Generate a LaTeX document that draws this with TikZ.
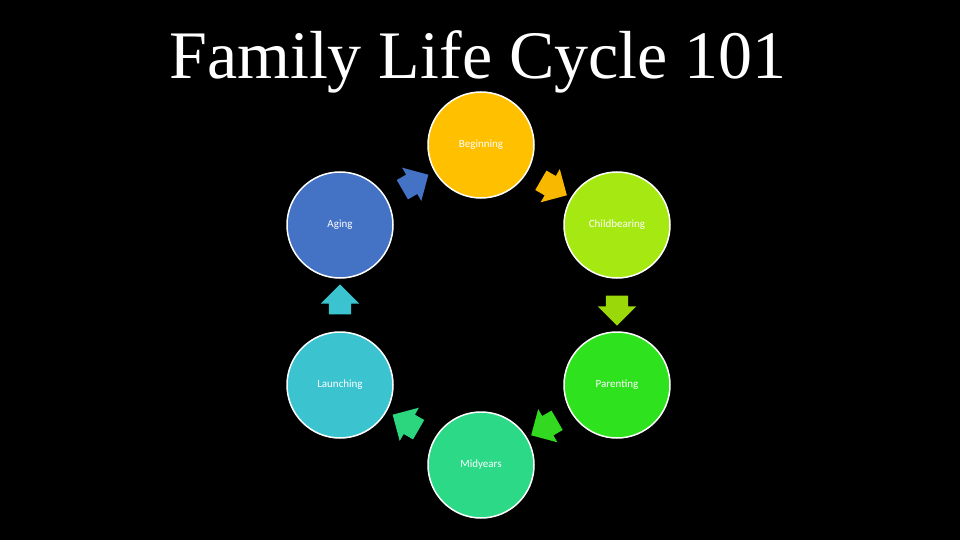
\documentclass[tikz,border=0pt]{standalone}
\usepackage{fontspec}
\setmainfont{Liberation Serif}
\newfontfamily\lab{Carlito}
\usetikzlibrary{shapes.arrows}
\definecolor{cA}{HTML}{FFC000}
\definecolor{cB}{HTML}{A6E912}
\definecolor{cC}{HTML}{2EE31E}
\definecolor{cD}{HTML}{2BD987}
\definecolor{cE}{HTML}{3BC4D0}
\definecolor{cF}{HTML}{4472C4}
\definecolor{aA}{HTML}{F9B800}
\definecolor{aB}{HTML}{9BD80A}
\definecolor{aC}{HTML}{33D820}
\definecolor{aD}{HTML}{2BD67F}
\definecolor{aE}{HTML}{3BC4CF}
\definecolor{aF}{HTML}{4472C4}
\begin{document}
\begin{tikzpicture}[x=1pt,y=-1pt,
  stage/.style={circle,draw=white,line width=1.5pt,minimum size=106pt,inner sep=0pt,text=white,font=\lab\fontsize{11}{13}\selectfont},
  blockarrow/.style={single arrow,draw=none,fill=#1,minimum height=30pt,minimum width=36pt,single arrow head extend=8pt,inner xsep=0pt,inner ysep=11pt}]
\fill[black] (0,0) rectangle (960,540);
\useasboundingbox (0,0) rectangle (960,540);
\node[text=white] (title) at (478,62) {\fontsize{68}{70}\selectfont Family Life Cycle 101};
\node[stage,fill=cA] (beg) at (481,145) {Beginning};
\node[stage,fill=cB] (chi) at (617,225) {Childbearing};
\node[stage,fill=cC] (par) at (617,385) {Parenting};
\node[stage,fill=cD] (mid) at (481,465) {Midyears};
\node[stage,fill=cE] (lau) at (340,385) {Launching};
\node[stage,fill=cF] (agi) at (340,225) {Aging};
\path (agi) -- node[blockarrow=aF,rotate=30,pos=0.5] (a1) {} (beg);
\path (beg) -- node[blockarrow=aA,rotate=-30,pos=0.5] (a2) {} (chi);
\path (chi) -- node[blockarrow=aB,rotate=-90,pos=0.5] (a3) {} (par);
\path (par) -- node[blockarrow=aC,rotate=-150,pos=0.5] (a4) {} (mid);
\path (mid) -- node[blockarrow=aD,rotate=150,pos=0.5] (a5) {} (lau);
\path (lau) -- node[blockarrow=aE,rotate=90,pos=0.5] (a6) {} (agi);
\end{tikzpicture}
\end{document}
